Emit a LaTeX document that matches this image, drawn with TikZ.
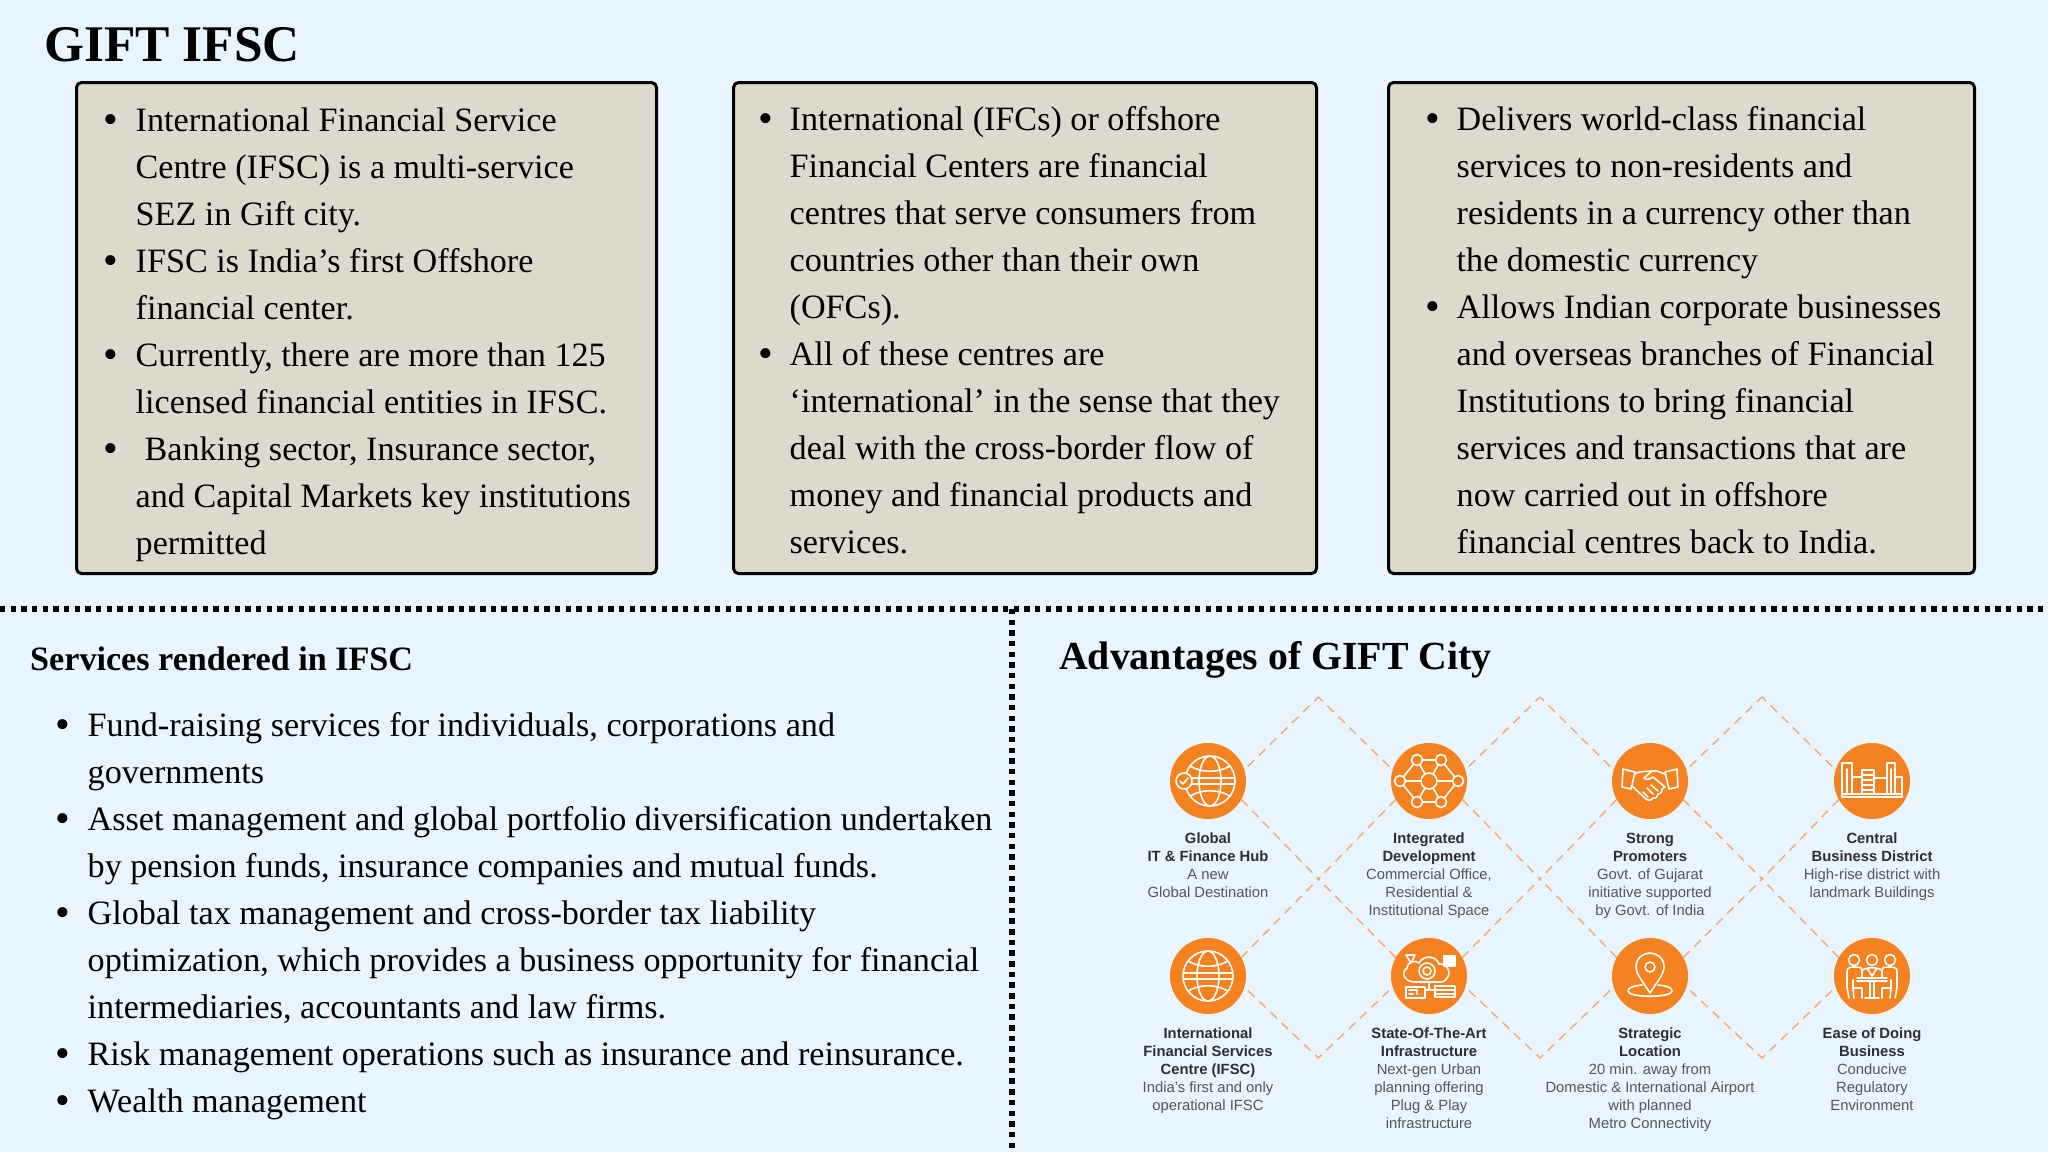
\documentclass[tikz,border=0pt]{standalone}
\usepackage{fontspec}
\setmainfont{Liberation Serif}
\setsansfont{Liberation Sans}
\definecolor{giftsky}{HTML}{E8F4FE}
\definecolor{giftsand}{HTML}{DDD9CC}
\definecolor{giftorange}{HTML}{F58220}
\definecolor{giftdash}{HTML}{F6A868}
\definecolor{gifthead}{HTML}{2E2E34}
\definecolor{giftbody}{HTML}{55555C}
\usetikzlibrary{positioning}
\newcommand{\bul}{\llap{\raisebox{-2.5pt}{\fontsize{42}{47}\selectfont\textbullet}\hspace{17pt}}}
\newcommand{\bodyfont}{\fontsize{34.15}{47}\selectfont}
\tikzset{
    panel/.style={draw=black, fill=giftsand, line width=3pt, rounded corners=5pt, anchor=north west, inner sep=0pt, outer sep=0pt},
    bodytext/.style={anchor=north west, inner sep=0pt, align=left, font=\bodyfont},
    dotrule/.style={line width=5.4pt, dash pattern=on 5.4pt off 5.27pt, black},
    badge/.style={circle, fill=giftorange, minimum size=76pt, inner sep=0pt, outer sep=0pt},
    dashlink/.style={draw=giftdash, line width=1.4pt, dash pattern=on 9pt off 6.5pt},
    caption/.style={below=12pt of #1, anchor=north, inner sep=0pt, align=center, text=giftbody, font=\sffamily\fontsize{14.8}{18}\selectfont},
    iconline/.style={draw=white, line width=1.6pt, line join=round, line cap=round},
}
\newcommand{\head}[1]{\textcolor{gifthead}{\textbf{#1}}}
\newcommand{\globeicon}{%
    \draw[iconline] (0,0) circle (25);
    \draw[iconline] (0,0) ellipse (11 and 25);
    \draw[iconline] (-24.5,-3) -- (24.5,-3) (-24.5,3) -- (24.5,3);
    \draw[iconline] (-20,-15) .. controls (-8,-8) and (8,-8) .. (20,-15);
    \draw[iconline] (-20,15) .. controls (-8,8) and (8,8) .. (20,15);
}
\begin{document}
\begin{tikzpicture}[x=1pt, y=-1pt]
    \useasboundingbox (0,0) rectangle (2048,1152);
    \fill[giftsky] (0,0) rectangle (2048,1152);

    \node[anchor=base west, inner sep=0pt, font=\fontsize{51.4}{60}\selectfont\bfseries] (title) at (44,61) {GIFT IFSC};

    \node[panel, minimum width=580pt, minimum height=491pt] (panelA) at (76.5,82.5) {};
    \node[panel, minimum width=583pt, minimum height=491pt] (panelB) at (733.5,82.5) {};
    \node[panel, minimum width=586pt, minimum height=491pt] (panelC) at (1388.5,82.5) {};

    \node[bodytext] (textA) at (135.5,98) {\strut\bul International Financial Service\\
        Centre (IFSC) is a multi-service\\
        SEZ in Gift city.\\
        \bul IFSC is India’s first Offshore\\
        financial center.\\
        \bul Currently, there are more than 125\\
        licensed financial entities in IFSC.\\
        \bul\hspace*{9pt}Banking sector, Insurance sector,\\
        and Capital Markets key institutions\\
        permitted};
    \node[bodytext] (textB) at (789.5,97) {\strut\bul International (IFCs) or offshore\\
        Financial Centers are financial\\
        centres that serve consumers from\\
        countries other than their own\\
        (OFCs).\\
        \bul All of these centres are\\
        ‘international’ in the sense that they\\
        deal with the cross-border flow of\\
        money and financial products and\\
        services.};
    \node[bodytext] (textC) at (1456.5,97) {\strut\bul Delivers world-class financial\\
        services to non-residents and\\
        residents in a currency other than\\
        the domestic currency\\
        \bul Allows Indian corporate businesses\\
        and overseas branches of Financial\\
        Institutions to bring financial\\
        services and transactions that are\\
        now carried out in offshore\\
        financial centres back to India.};

    \coordinate (ruleL) at (0,609);
    \coordinate (ruleR) at (2048,609);
    \coordinate (ruleT) at (1012,609);
    \coordinate (ruleB) at (1012,1152);
    \draw[dotrule] (ruleL) -- (ruleR);
    \draw[dotrule] (ruleT) -- (ruleB);

    \node[anchor=base west, inner sep=0pt, font=\fontsize{34.15}{40}\selectfont\bfseries] (servTitle) at (30,670) {Services rendered in IFSC};
    \node[bodytext] (servList) at (87.5,703) {\strut\bul Fund-raising services for individuals, corporations and\\
        governments\\
        \bul Asset management and global portfolio diversification undertaken\\
        by pension funds, insurance companies and mutual funds.\\
        \bul Global tax management and cross-border tax liability\\
        optimization, which provides a business opportunity for financial\\
        intermediaries, accountants and law firms.\\
        \bul Risk management operations such as insurance and reinsurance.\\
        \bul Wealth management};

    \node[anchor=base west, inner sep=0pt, font=\fontsize{39.8}{46}\selectfont\bfseries] (advTitle) at (1059,669) {Advantages of GIFT City};

    \foreach \name/\cx in {a/1208,b/1429,c/1650,d/1872} {
        \node[badge] (\name1) at (\cx,781) {};
        \node[badge] (\name2) at (\cx,976) {};
    }
    \foreach \i/\x in {1/1318.3,2/1540,3/1762} {
        \coordinate (top\i) at (\x,697);
        \coordinate (mid\i) at (\x,879);
        \coordinate (bot\i) at (\x,1058);
    }
    \foreach \l/\r/\i in {a/b/1,b/c/2,c/d/3} {
        \draw[dashlink, shorten <=5pt] (\l1.17) -- (top\i);
        \draw[dashlink, shorten <=5pt] (\r1.163) -- (top\i);
        \draw[dashlink] (\l1.-29) -- (mid\i);
        \draw[dashlink] (\r1.209) -- (mid\i);
        \draw[dashlink] (\l2.29) -- (mid\i);
        \draw[dashlink] (\r2.151) -- (mid\i);
        \draw[dashlink, shorten <=5pt] (\l2.-17) -- (bot\i);
        \draw[dashlink, shorten <=5pt] (\r2.197) -- (bot\i);
    }

    \node[caption=a1] (a1txt) {\strut\head{Global}\\\head{IT \& Finance Hub}\\A new\\Global Destination};
    \node[caption=b1] (b1txt) {\strut\head{Integrated}\\\head{Development}\\Commercial Office,\\Residential \&\\Institutional Space};
    \node[caption=c1] (c1txt) {\strut\head{Strong}\\\head{Promoters}\\Govt. of Gujarat\\initiative supported\\by Govt. of India};
    \node[caption=d1] (d1txt) {\strut\head{Central}\\\head{Business District}\\High-rise district with\\landmark Buildings};
    \node[caption=a2] (a2txt) {\strut\head{International}\\\head{Financial Services}\\\head{Centre (IFSC)}\\India's first and only\\operational IFSC};
    \node[caption=b2] (b2txt) {\strut\head{State-Of-The-Art}\\\head{Infrastructure}\\Next-gen Urban\\planning offering\\Plug \& Play\\infrastructure};
    \node[caption=c2] (c2txt) {\strut\head{Strategic}\\\head{Location}\\20 min. away from\\Domestic \& International Airport\\with planned\\Metro Connectivity};
    \node[caption=d2] (d2txt) {\strut\head{Ease of Doing}\\\head{Business}\\Conducive\\Regulatory\\Environment};

    \begin{scope}[shift={(a1)}, xshift=2pt]
        \globeicon
        \draw[iconline, fill=giftorange] (-26,0) circle (8);
        \draw[iconline] (-30,0) -- (-27,3) -- (-22,-3);
    \end{scope}
    \begin{scope}[shift={(a2)}]
        \globeicon
    \end{scope}
    \begin{scope}[shift={(b1)}]
        \draw[iconline] (-29,0) -- (-12,-21) -- (12,-21) -- (29,0) -- (12,21) -- (-12,21) -- cycle;
        \foreach \x/\y in {-29/0,-12/-21,12/-21,29/0,12/21,-12/21} {
            \draw[iconline] (0,0) -- (\x,\y);
        }
        \draw[iconline, fill=giftorange] (0,0) circle (8);
        \foreach \x/\y in {-29/0,-12/-21,12/-21,29/0,12/21,-12/21} {
            \draw[iconline, fill=giftorange] (\x,\y) circle (5.5);
        }
    \end{scope}
    \begin{scope}[shift={(c1)}]
        \draw[iconline] (-27,-12) -- (-15,-9) -- (-19,8) -- (-28,6) -- cycle;
        \draw[iconline] (27,-12) -- (15,-9) -- (19,8) -- (28,6) -- cycle;
        \draw[iconline] (-15,-7) .. controls (-8,-11) and (-2,-9) .. (2,-10) .. controls (7,-11) and (11,-8) .. (15,-7);
        \draw[iconline] (2,-10) -- (-6,-3) .. controls (-3,0) and (1,-3) .. (3,-4) -- (15,6);
        \draw[iconline] (-18,5) -- (-4,18) .. controls (0,21) and (2,18) .. (3,17) .. controls (6,18) and (8,15) .. (8,13) .. controls (11,13) and (13,10) .. (12,8) -- (15,6);
        \draw[iconline] (-3,7) -- (3,13) (1,4) -- (8,10) (-7,11) -- (-2,16);
    \end{scope}
    \begin{scope}[shift={(d1)}]
        \draw[iconline] (-30,16) -- (30,16) -- (30,13) -- (-30,13) -- cycle;
        \draw[iconline] (-30,13) -- (-30,-18) -- (-20,-18) -- (-20,13);
        \draw[iconline] (-20,-4) -- (-10,-4) -- (-10,13);
        \draw[iconline] (-10,-11) -- (2,-11) -- (2,13) (-10,-11) -- (-10,-4);
        \foreach \y in {-6,-1,4,9} {
            \draw[iconline] (-10,\y) -- (2,\y);
        }
        \draw[iconline] (2,-3) -- (15,-3);
        \draw[iconline] (15,13) -- (15,-18) -- (23,-18) -- (23,13);
        \draw[iconline] (23,-4) -- (30,-4) -- (30,13);
        \draw[iconline] (-25,-12) -- (-25,13) (19,-12) -- (19,13);
    \end{scope}
    \begin{scope}[shift={(b2)}]
        \draw[iconline] (-14,6) .. controls (-24,6) and (-29,-3) .. (-22,-8) .. controls (-21,-15) and (-14,-16) .. (-10,-13) .. controls (-6,-21) and (7,-21) .. (10,-12) .. controls (18,-13) and (23,-3) .. (18,2) .. controls (16,5) and (14,6) .. (12,6) -- cycle;
        \draw[iconline] (-2,-5) circle (8) (-2,-5) circle (4);
        \draw[iconline] (0,6) -- (0,14) (-4,14) -- (6,14);
        \draw[iconline] (-23,11) rectangle (-4,22);
        \draw[iconline] (6,10) rectangle (26,21) (6,14) -- (26,14) (6,18) -- (26,18);
        \draw[iconline] (-20,14) -- (-12,14) -- (-12,18) (-20,18) -- (-16,18);
        \draw[iconline] (-23,-21) -- (-14,-21) -- (-18,-13) -- cycle;
        \draw[iconline, fill=white] (15,-20) rectangle (26,-10);
    \end{scope}
    \begin{scope}[shift={(c2)}]
        \draw[iconline] (0,17) .. controls (-7,6) and (-14,-2) .. (-14,-9) .. controls (-14,-18) and (-7,-23) .. (0,-23) .. controls (7,-23) and (14,-18) .. (14,-9) .. controls (14,-2) and (7,6) .. (0,17) -- cycle;
        \draw[iconline] (0,-9) circle (5);
        \draw[iconline] (-8,9) .. controls (-18,10) and (-22,12) .. (-22,15) .. controls (-22,22) and (22,22) .. (22,15) .. controls (22,12) and (18,10) .. (8,9);
    \end{scope}
    \begin{scope}[shift={(d2)}]
        \foreach \x in {-18,0,18} {
            \draw[iconline] (\x,-16) circle (5.5);
        }
        \draw[iconline] (-10,2) -- (-10,-6) .. controls (-10,-9) and (-13,-9) .. (-18,-9) .. controls (-23,-9) and (-25,-8) .. (-25,-4) -- (-25,12) -- (-23,22);
        \draw[iconline] (10,2) -- (10,-6) .. controls (10,-9) and (13,-9) .. (18,-9) .. controls (23,-9) and (25,-8) .. (25,-4) -- (25,12) -- (23,22);
        \draw[iconline] (-9,-6) .. controls (-6,-9) and (6,-9) .. (9,-6) (-5,-8) -- (0,0) -- (5,-8);
        \draw[iconline] (-15,2) -- (15,2) (-15,5) -- (15,5);
        \draw[iconline] (-2,5) -- (-2,22) (2,5) -- (2,22) (-7,22) -- (7,22);
        \draw[iconline] (-19,4) -- (-19,12) -- (-10,12) -- (-10,22) (-19,12) -- (-18,22);
        \draw[iconline] (19,4) -- (19,12) -- (10,12) -- (10,22) (19,12) -- (18,22);
    \end{scope}
\end{tikzpicture}
\end{document}
